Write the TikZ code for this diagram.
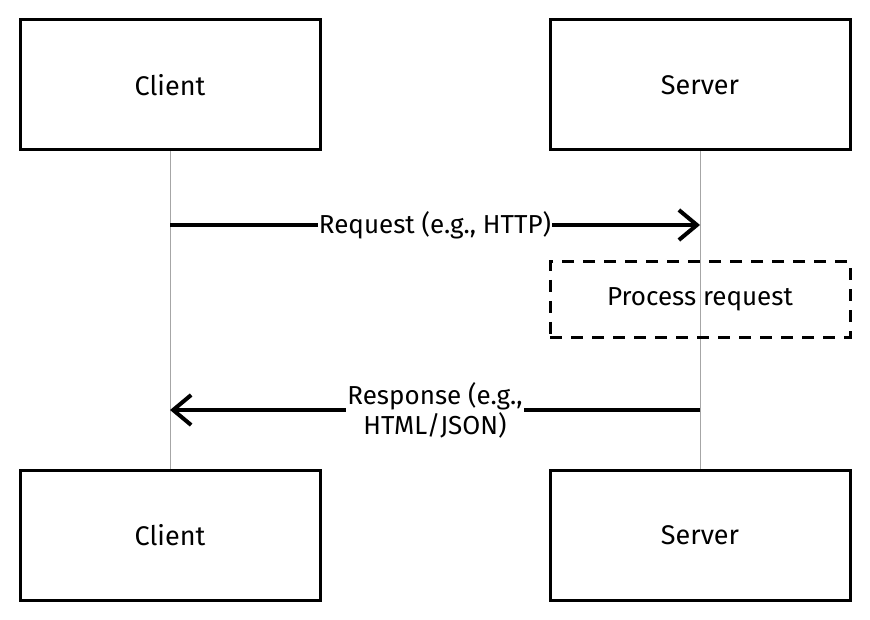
\documentclass[tikz,border=0pt]{standalone}
\usepackage{fontspec}
\setmainfont{Fira Sans}
\usetikzlibrary{arrows.meta}
\begin{document}
\begin{tikzpicture}[x=1pt,y=-1pt,
  box/.style={draw=black,line width=3pt,minimum width=300pt,minimum height=130pt,font=\fontsize{27}{30}\selectfont},
  life/.style={draw=gray!70,line width=1pt},
  msg/.style={line width=4pt,->,>={Straight Barb[length=18pt,width=30pt]}},
  lbl/.style={fill=white,inner sep=1pt,font=\fontsize{26}{30}\selectfont,align=center}]
\useasboundingbox[fill=white] (0,0) rectangle (870,620);
\node[box] (c1) at (170,85) {Client};
\node[box] (s1) at (700,85) {Server};
\node[box] (c2) at (170,535) {Client};
\node[box] (s2) at (700,535) {Server};
\draw[life] (c1.south) -- (c2.north);
\draw[life] (s1.south) -- (s2.north);
\node[draw,line width=3pt,dash pattern=on 12pt off 9pt,minimum width=300pt,minimum height=75pt,font=\fontsize{26}{30}\selectfont] (p) at (700,299.5) {Process request};
\coordinate (a1) at (170,225); \coordinate (a2) at (700,225);
\coordinate (b1) at (700,410); \coordinate (b2) at (170,410);
\draw[msg] (a1) -- node[lbl] (rq) {Request (e.g., HTTP)} (a2);
\draw[msg] (b1) -- node[lbl] (rs) {Response (e.g.,\\HTML/JSON)} (b2);
\end{tikzpicture}
\end{document}
